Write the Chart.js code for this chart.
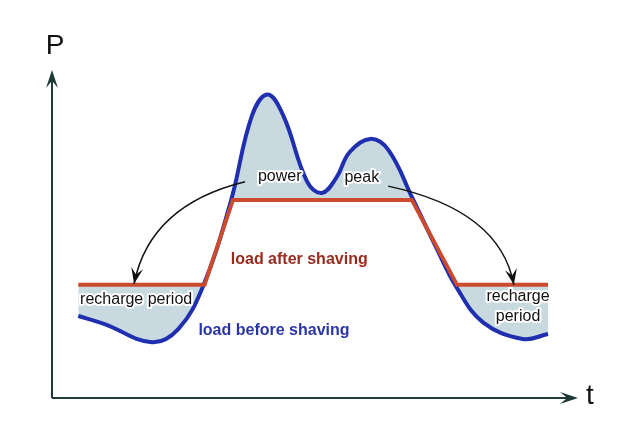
<!DOCTYPE html>
<html lang="en">
<head>
<meta charset="UTF-8">
<title>Peak shaving</title>
<style>
  html, body { margin: 0; padding: 0; background: #fff; }
  #wrap { width: 630px; height: 440px; }
</style>
</head>
<body>
<div id="wrap"><canvas id="myChart"></canvas></div>

<script src="https://cdn.jsdelivr.net/npm/chart.js"></script>
<script>
    // load before shaving (t, P)
    const beforeT = [5, 10, 19, 24, 28.7, 34, 38, 41, 44, 48.5, 51.3, 54, 56.6, 60.5, 64, 68.5, 73, 77, 82, 89.5, 94.3];
    const beforeP = [25, 22.5, 17, 21, 34, 60, 86, 92.5, 86, 66, 62.5, 67, 75, 79, 75.5, 61, 46, 33.5, 23, 18, 19.5];

    // load after shaving (t, P)
    const afterT = [5, 29, 34.4, 68.4, 77, 94.3];
    const afterP = [34.5, 34.5, 60.4, 60.4, 34.5, 34.5];

    const fillColor = '#c8dadf';
    const blue = '#1f2fb0';
    const red = '#cc4a2e';

    function pts(xs, ys) {
        return xs.map((x, i) => ({ x: x, y: ys[i] }));
    }

    const sketch = {
        id: 'sketch',
        beforeDraw(chart) {
            const c = chart.ctx;
            c.save();
            c.fillStyle = '#fff';
            c.fillRect(0, 0, chart.width, chart.height);
            c.restore();
        },
        afterDatasetsDraw(chart) {
            const c = chart.ctx;
            const xs = chart.scales.x, ys = chart.scales.y;
            const a = chart.chartArea;
            const px = v => xs.getPixelForValue(v);
            const py = v => ys.getPixelForValue(v);

            c.save();
            // axes with arrow heads
            c.strokeStyle = '#1e3b38';
            c.fillStyle = '#1e3b38';
            c.lineWidth = 2;
            c.beginPath();
            c.moveTo(a.left, a.bottom);
            c.lineTo(a.left, a.top + 10);
            c.moveTo(a.left, a.bottom);
            c.lineTo(a.right - 10, a.bottom);
            c.stroke();
            head(c, a.left, a.top + 20, a.left, a.top, 18, 6);
            head(c, a.right - 20, a.bottom, a.right, a.bottom, 18, 6);

            c.font = '28px "Liberation Sans", Arial, sans-serif';
            c.fillStyle = '#111';
            c.textAlign = 'center';
            c.textBaseline = 'middle';
            c.fillText('P', a.left + 3, 46);
            c.fillText('t', a.right + 12, a.bottom - 2);

            // curved arrows from the peak to the recharge periods
            c.strokeStyle = '#111';
            c.fillStyle = '#111';
            c.lineWidth = 1.5;
            curve(c, px(36.7), py(65.9), px(18.6), py(58.8), px(15.6), py(34.8));
            curve(c, px(63.9), py(64.6), px(85.2), py(57.3), px(87.8), py(34.5));

            // labels
            halo(c, 'power', px(43.3), py(67.4));
            halo(c, 'peak', px(58.9), py(67.1));
            halo(c, 'recharge period', px(16.0), py(29.9));
            halo(c, 'recharge', px(88.6), py(30.8));
            halo(c, 'period', px(88.6), py(24.7));

            c.font = 'bold 16px "Liberation Sans", Arial, sans-serif';
            c.fillStyle = '#9a2a1c';
            c.fillText('load after shaving', px(47.0), py(42.1));
            c.fillStyle = '#2a36a8';
            c.fillText('load before shaving', px(42.2), py(20.7));
            c.restore();
        }
    };

    function head(c, x0, y0, x1, y1, len, w) {
        const ang = Math.atan2(y1 - y0, x1 - x0);
        c.beginPath();
        c.moveTo(x1, y1);
        c.lineTo(x1 - len * Math.cos(ang) + w * Math.sin(ang), y1 - len * Math.sin(ang) - w * Math.cos(ang));
        c.lineTo(x1 - 0.6 * len * Math.cos(ang), y1 - 0.6 * len * Math.sin(ang));
        c.lineTo(x1 - len * Math.cos(ang) - w * Math.sin(ang), y1 - len * Math.sin(ang) + w * Math.cos(ang));
        c.closePath();
        c.fill();
    }

    function curve(c, x0, y0, cx, cy, x1, y1) {
        c.beginPath();
        c.moveTo(x0, y0);
        c.quadraticCurveTo(cx, cy, x1, y1);
        c.stroke();
        head(c, cx, cy, x1, y1, 16, 6);
    }

    function halo(c, text, x, y) {
        c.font = '16px "Liberation Sans", Arial, sans-serif';
        c.lineJoin = 'round';
        c.strokeStyle = '#fff';
        c.lineWidth = 4;
        c.strokeText(text, x, y);
        c.fillStyle = '#111';
        c.fillText(text, x, y);
    }

    const ctx = document.getElementById('myChart');

    new Chart(ctx, {
        type: 'line',
        data: {
            datasets: [{
                label: 'load before shaving',
                data: pts(beforeT, beforeP),
                borderColor: blue,
                borderWidth: 4,
                tension: 0.4,
                pointRadius: 0,
                order: 2,
                fill: { target: 1, above: fillColor, below: fillColor }
            }, {
                label: 'load after shaving',
                data: pts(afterT, afterP),
                borderColor: red,
                borderWidth: 4,
                tension: 0,
                pointRadius: 0,
                order: 1,
                fill: false
            }]
        },
        options: {
            responsive: true,
            maintainAspectRatio: false,
            animation: false,
            layout: { padding: { left: 52, right: 52, top: 70, bottom: 42 } },
            scales: {
                x: { type: 'linear', min: 0, max: 100, display: false },
                y: { min: 0, max: 100, display: false }
            },
            plugins: {
                legend: { display: false },
                tooltip: { enabled: false }
            }
        },
        plugins: [sketch]
    });
</script>
</body>
</html>
